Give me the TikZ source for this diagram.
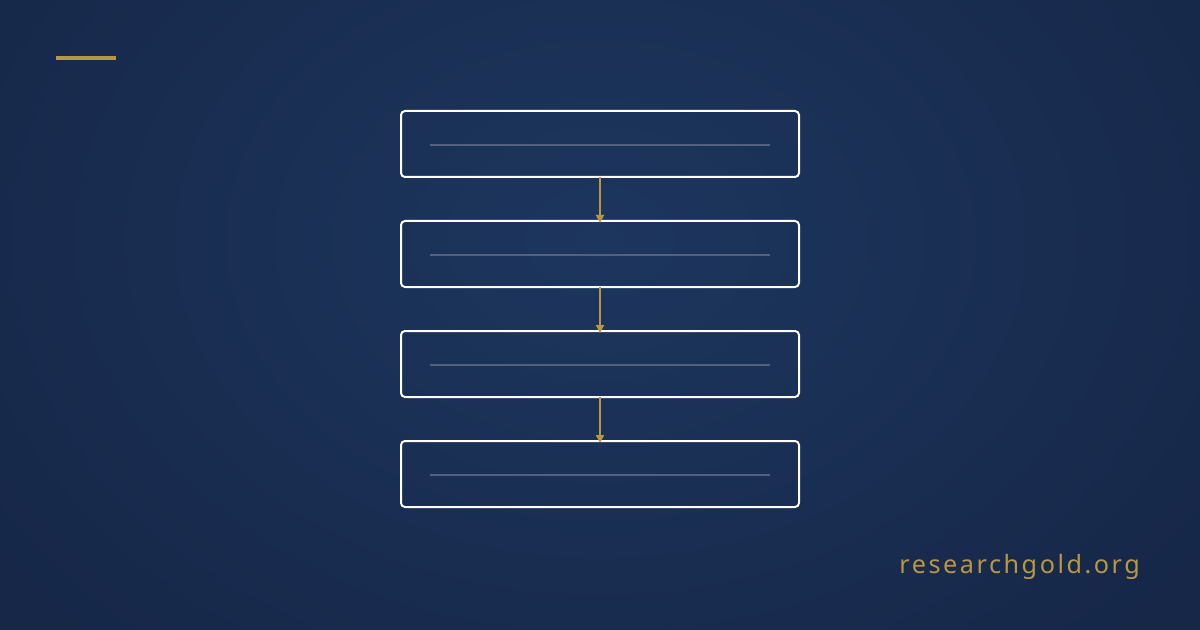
\documentclass[tikz,border=0pt]{standalone}
\usepackage{fontspec}
\usetikzlibrary{arrows.meta}
\newfontfamily\brandfont[LetterSpace=10]{Noto Sans}
\definecolor{bgin}{RGB}{29,54,94}
\definecolor{bgout}{RGB}{22,39,72}
\definecolor{gold}{RGB}{184,151,64}
\definecolor{rulegray}{RGB}{82,98,124}
\begin{document}
\begin{tikzpicture}[x=1bp,y=-1bp,
  stepbox/.style={draw=white,line width=2bp,rounded corners=4bp,minimum width=398bp,minimum height=66bp,inner sep=0pt,outer sep=0pt,anchor=north west},
  link/.style={draw=gold,line width=2bp,-{Triangle[length=8bp,width=8bp]},shorten >=-2bp},
  inrule/.style={draw=rulegray,line width=1.2bp}]
\useasboundingbox (0,0) rectangle (1200,630);
\shade[inner color=bgin,outer color=bgout] (-150,-320) rectangle (1350,800);
\fill[gold] (56,56) rectangle (116,60);
\foreach \i/\y in {1/111,2/221,3/331,4/441}{
  \node[stepbox] (b\i) at (401,\y) {};
  \draw[inrule] ([xshift=29bp,yshift=-1bp]b\i.west) -- ([xshift=-29bp,yshift=-1bp]b\i.east);
}
\draw[link] (b1.south) -- (b2.north);
\draw[link] (b2.south) -- (b3.north);
\draw[link] (b3.south) -- (b4.north);
\node[anchor=base east,inner sep=0pt,text=gold,font=\brandfont\fontsize{25.3}{30}\selectfont] (brand) at (1140,573) {researchgold.org};
\end{tikzpicture}
\end{document}
